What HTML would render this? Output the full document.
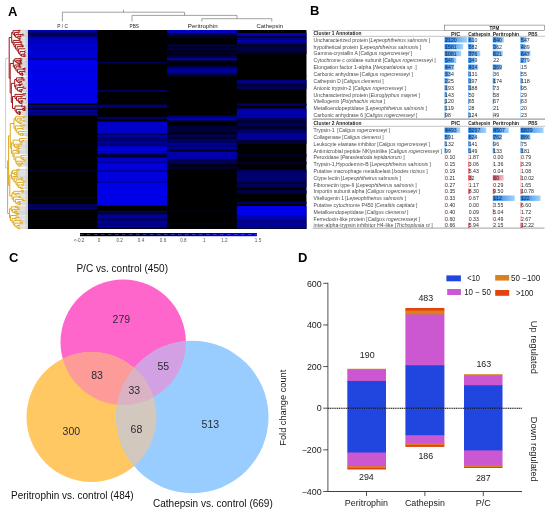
<!DOCTYPE html>
<html><head><meta charset="utf-8"><title>Figure</title>
<style>
html,body{margin:0;padding:0;background:#fff;}
body{width:550px;height:513px;overflow:hidden;}
svg{display:block;font-family:"Liberation Sans",Arial,sans-serif;filter:blur(0.35px);}
</style></head><body>
<svg width="550" height="513" viewBox="0 0 550 513">
<rect width="550" height="513" fill="#fff"/>
<text x="8" y="15.6" font-size="13" font-weight="bold" fill="#000">A</text>
<text x="310" y="15.2" font-size="13" font-weight="bold" fill="#000">B</text>
<text x="9" y="261.8" font-size="13" font-weight="bold" fill="#000">C</text>
<text x="298" y="262.3" font-size="13" font-weight="bold" fill="#000">D</text>
<g stroke="#7a7a7a" stroke-width="0.7" fill="none"><path d="M123.5 9.7V12.2 M62.4 21.4V12.2H184.5V15.4 M132 21.6V15.4H237V18.7 M201.8 21.6V18.7H271.8V21.6"/></g>
<text x="57.3" y="28.0" font-size="6.1" fill="#222" text-anchor="start" textLength="10.6" lengthAdjust="spacingAndGlyphs">P / C</text>
<text x="129.6" y="28.0" font-size="6.1" fill="#222" text-anchor="start" textLength="9.4" lengthAdjust="spacingAndGlyphs">PBS</text>
<text x="187.8" y="28.0" font-size="6.1" fill="#222" text-anchor="start" textLength="29.8" lengthAdjust="spacingAndGlyphs">Peritrophin</text>
<text x="256.5" y="28.0" font-size="6.1" fill="#222" text-anchor="start" textLength="26.5" lengthAdjust="spacingAndGlyphs">Cathepsin</text>
<rect x="27.8" y="30" width="278.7" height="199" fill="#000"/>
<rect x="27.8" y="30.0" width="69.5" height="2.0" fill="rgb(0,0,178)"/>
<rect x="27.8" y="32.0" width="69.5" height="1.3" fill="rgb(0,0,120)"/>
<rect x="27.8" y="33.3" width="69.5" height="2.0" fill="rgb(0,0,75)"/>
<rect x="27.8" y="35.3" width="69.5" height="1.0" fill="rgb(0,0,115)"/>
<rect x="27.8" y="36.3" width="69.5" height="3.7" fill="rgb(0,0,172)"/>
<rect x="27.8" y="40.0" width="69.5" height="2.0" fill="rgb(0,0,196)"/>
<rect x="27.8" y="42.0" width="69.5" height="2.0" fill="rgb(0,0,186)"/>
<rect x="27.8" y="44.0" width="69.5" height="3.0" fill="rgb(0,0,206)"/>
<rect x="27.8" y="47.0" width="69.5" height="3.0" fill="rgb(0,0,196)"/>
<rect x="27.8" y="50.0" width="69.5" height="4.0" fill="rgb(0,0,214)"/>
<rect x="27.8" y="54.0" width="69.5" height="2.0" fill="rgb(0,0,205)"/>
<rect x="27.8" y="56.0" width="69.5" height="2.6" fill="rgb(0,0,216)"/>
<rect x="27.8" y="58.6" width="69.5" height="1.0" fill="rgb(0,0,165)"/>
<rect x="27.8" y="59.6" width="69.5" height="2.4" fill="rgb(0,0,226)"/>
<rect x="27.8" y="62.0" width="69.5" height="8.0" fill="rgb(0,0,235)"/>
<rect x="27.8" y="70.0" width="69.5" height="2.0" fill="rgb(0,0,220)"/>
<rect x="27.8" y="72.0" width="69.5" height="8.0" fill="rgb(0,0,234)"/>
<rect x="27.8" y="80.0" width="69.5" height="2.0" fill="rgb(0,0,220)"/>
<rect x="27.8" y="82.0" width="69.5" height="21.0" fill="rgb(0,0,232)"/>
<rect x="27.8" y="103.0" width="69.5" height="0.5" fill="rgb(0,0,60)"/>
<rect x="27.8" y="105.0" width="69.5" height="3.0" fill="rgb(0,0,140)"/>
<rect x="27.8" y="108.0" width="69.5" height="2.0" fill="rgb(0,0,50)"/>
<rect x="27.8" y="110.0" width="69.5" height="2.2" fill="rgb(0,0,150)"/>
<rect x="27.8" y="112.2" width="69.5" height="0.8" fill="rgb(0,0,128)"/>
<rect x="27.8" y="113.0" width="69.5" height="2.0" fill="rgb(0,0,150)"/>
<rect x="27.8" y="115.0" width="69.5" height="1.0" fill="rgb(0,0,50)"/>
<rect x="27.8" y="143.6" width="69.5" height="0.8" fill="rgb(0,0,30)"/>
<rect x="27.8" y="170.3" width="69.5" height="0.8" fill="rgb(0,0,60)"/>
<rect x="27.8" y="197.0" width="69.5" height="0.8" fill="rgb(0,0,50)"/>
<rect x="27.8" y="204.0" width="69.5" height="3.8" fill="rgb(0,0,85)"/>
<rect x="27.8" y="207.8" width="69.5" height="1.0" fill="rgb(0,0,140)"/>
<rect x="97.3" y="62.0" width="69.7" height="1.0" fill="rgb(0,0,90)"/>
<rect x="97.3" y="90.0" width="69.7" height="1.5" fill="rgb(0,0,100)"/>
<rect x="97.3" y="104.5" width="69.7" height="3.3" fill="rgb(0,0,110)"/>
<rect x="97.3" y="116.8" width="69.7" height="2.4" fill="rgb(0,0,100)"/>
<rect x="97.3" y="121.5" width="69.7" height="11.5" fill="rgb(0,0,200)"/>
<rect x="97.3" y="133.0" width="69.7" height="1.6" fill="rgb(0,0,110)"/>
<rect x="97.3" y="134.6" width="69.7" height="2.4" fill="rgb(0,0,160)"/>
<rect x="97.3" y="137.0" width="69.7" height="4.5" fill="rgb(0,0,110)"/>
<rect x="97.3" y="141.5" width="69.7" height="1.5" fill="rgb(0,0,150)"/>
<rect x="97.3" y="143.0" width="69.7" height="2.8" fill="rgb(0,0,120)"/>
<rect x="97.3" y="145.8" width="69.7" height="2.2" fill="rgb(0,0,190)"/>
<rect x="97.3" y="148.0" width="69.7" height="3.5" fill="rgb(0,0,215)"/>
<rect x="97.3" y="151.5" width="69.7" height="1.5" fill="rgb(0,0,190)"/>
<rect x="97.3" y="153.0" width="69.7" height="1.7" fill="rgb(0,0,140)"/>
<rect x="97.3" y="154.7" width="69.7" height="2.8" fill="rgb(0,0,40)"/>
<rect x="97.3" y="157.5" width="69.7" height="4.3" fill="rgb(0,0,200)"/>
<rect x="97.3" y="161.8" width="69.7" height="1.2" fill="rgb(0,0,150)"/>
<rect x="97.3" y="163.0" width="69.7" height="7.7" fill="rgb(0,0,222)"/>
<rect x="97.3" y="170.7" width="69.7" height="1.3" fill="rgb(0,0,130)"/>
<rect x="97.3" y="172.0" width="69.7" height="8.0" fill="rgb(0,0,222)"/>
<rect x="97.3" y="180.0" width="69.7" height="2.5" fill="rgb(0,0,210)"/>
<rect x="97.3" y="182.5" width="69.7" height="23.0" fill="rgb(0,0,232)"/>
<rect x="97.3" y="211.0" width="69.7" height="1.5" fill="rgb(0,0,130)"/>
<rect x="97.3" y="212.5" width="69.7" height="1.9" fill="rgb(0,0,60)"/>
<rect x="97.3" y="214.4" width="69.7" height="3.6" fill="rgb(0,0,160)"/>
<rect x="97.3" y="218.0" width="69.7" height="2.7" fill="rgb(0,0,110)"/>
<rect x="97.3" y="220.7" width="69.7" height="3.3" fill="rgb(0,0,150)"/>
<rect x="97.3" y="224.0" width="69.7" height="1.5" fill="rgb(0,0,130)"/>
<rect x="97.3" y="225.5" width="69.7" height="1.5" fill="rgb(0,0,150)"/>
<rect x="97.3" y="227.0" width="69.7" height="1.5" fill="rgb(0,0,60)"/>
<rect x="97.3" y="228.5" width="69.7" height="0.5" fill="rgb(0,0,20)"/>
<rect x="167.0" y="30.0" width="69.8" height="3.0" fill="rgb(0,0,190)"/>
<rect x="167.0" y="34.3" width="69.8" height="1.3" fill="rgb(0,0,100)"/>
<rect x="167.0" y="35.6" width="69.8" height="2.0" fill="rgb(0,0,40)"/>
<rect x="167.0" y="44.5" width="69.8" height="2.0" fill="rgb(0,0,90)"/>
<rect x="167.0" y="48.3" width="69.8" height="2.1" fill="rgb(0,0,80)"/>
<rect x="167.0" y="50.4" width="69.8" height="5.0" fill="rgb(0,0,30)"/>
<rect x="167.0" y="55.4" width="69.8" height="2.1" fill="rgb(0,0,70)"/>
<rect x="167.0" y="57.5" width="69.8" height="1.1" fill="rgb(0,0,150)"/>
<rect x="167.0" y="58.6" width="69.8" height="1.4" fill="rgb(0,0,200)"/>
<rect x="167.0" y="60.0" width="69.8" height="0.8" fill="rgb(0,0,100)"/>
<rect x="167.0" y="60.8" width="69.8" height="4.8" fill="rgb(0,0,10)"/>
<rect x="167.0" y="65.6" width="69.8" height="2.4" fill="rgb(0,0,60)"/>
<rect x="167.0" y="68.0" width="69.8" height="1.8" fill="rgb(0,0,130)"/>
<rect x="167.0" y="69.8" width="69.8" height="2.0" fill="rgb(0,0,170)"/>
<rect x="167.0" y="71.8" width="69.8" height="2.0" fill="rgb(0,0,130)"/>
<rect x="167.0" y="73.8" width="69.8" height="2.5" fill="rgb(0,0,70)"/>
<rect x="167.0" y="115.6" width="69.8" height="1.9" fill="rgb(0,0,110)"/>
<rect x="167.0" y="117.5" width="69.8" height="3.0" fill="rgb(0,0,170)"/>
<rect x="167.0" y="120.5" width="69.8" height="1.0" fill="rgb(0,0,110)"/>
<rect x="167.0" y="125.8" width="69.8" height="6.7" fill="rgb(0,0,60)"/>
<rect x="167.0" y="134.3" width="69.8" height="2.6" fill="rgb(0,0,90)"/>
<rect x="167.0" y="136.9" width="69.8" height="2.1" fill="rgb(0,0,50)"/>
<rect x="167.0" y="139.0" width="69.8" height="3.7" fill="rgb(0,0,100)"/>
<rect x="167.0" y="142.7" width="69.8" height="2.6" fill="rgb(0,0,150)"/>
<rect x="167.0" y="145.3" width="69.8" height="1.0" fill="rgb(0,0,90)"/>
<rect x="167.0" y="146.3" width="69.8" height="2.7" fill="rgb(0,0,150)"/>
<rect x="167.0" y="149.0" width="69.8" height="2.6" fill="rgb(0,0,40)"/>
<rect x="167.0" y="151.6" width="69.8" height="7.7" fill="rgb(0,0,170)"/>
<rect x="167.0" y="159.3" width="69.8" height="5.1" fill="rgb(0,0,80)"/>
<rect x="167.0" y="164.4" width="69.8" height="2.6" fill="rgb(0,0,30)"/>
<rect x="167.0" y="167.0" width="69.8" height="1.7" fill="rgb(0,0,60)"/>
<rect x="167.0" y="210.6" width="69.8" height="0.8" fill="rgb(0,0,50)"/>
<rect x="167.0" y="223.4" width="69.8" height="0.8" fill="rgb(0,0,40)"/>
<rect x="236.8" y="33.0" width="69.7" height="3.4" fill="rgb(0,0,180)"/>
<rect x="236.8" y="36.4" width="69.7" height="1.6" fill="rgb(0,0,60)"/>
<rect x="236.8" y="38.0" width="69.7" height="1.5" fill="rgb(0,0,130)"/>
<rect x="236.8" y="39.5" width="69.7" height="2.0" fill="rgb(0,0,170)"/>
<rect x="236.8" y="41.5" width="69.7" height="2.5" fill="rgb(0,0,140)"/>
<rect x="236.8" y="44.0" width="69.7" height="2.5" fill="rgb(0,0,50)"/>
<rect x="236.8" y="46.5" width="69.7" height="5.1" fill="rgb(0,0,70)"/>
<rect x="236.8" y="51.6" width="69.7" height="2.4" fill="rgb(0,0,40)"/>
<rect x="236.8" y="75.4" width="69.7" height="0.8" fill="rgb(0,0,20)"/>
<rect x="236.8" y="80.0" width="69.7" height="3.8" fill="rgb(0,0,130)"/>
<rect x="236.8" y="83.8" width="69.7" height="1.8" fill="rgb(0,0,40)"/>
<rect x="236.8" y="85.6" width="69.7" height="3.4" fill="rgb(0,0,90)"/>
<rect x="236.8" y="103.4" width="69.7" height="2.6" fill="rgb(0,0,100)"/>
<rect x="236.8" y="108.5" width="69.7" height="9.7" fill="rgb(0,0,170)"/>
<rect x="236.8" y="118.2" width="69.7" height="2.5" fill="rgb(0,0,100)"/>
<rect x="236.8" y="120.7" width="69.7" height="2.6" fill="rgb(0,0,50)"/>
<rect x="236.8" y="123.3" width="69.7" height="3.0" fill="rgb(0,0,100)"/>
<rect x="236.8" y="126.3" width="69.7" height="3.7" fill="rgb(0,0,50)"/>
<rect x="236.8" y="130.0" width="69.7" height="2.5" fill="rgb(0,0,100)"/>
<rect x="236.8" y="132.5" width="69.7" height="7.7" fill="rgb(0,0,150)"/>
<rect x="236.8" y="140.2" width="69.7" height="3.8" fill="rgb(0,0,60)"/>
<rect x="236.8" y="154.2" width="69.7" height="2.5" fill="rgb(0,0,40)"/>
<rect x="236.8" y="161.8" width="69.7" height="2.6" fill="rgb(0,0,40)"/>
<rect x="236.8" y="169.5" width="69.7" height="2.5" fill="rgb(0,0,80)"/>
<rect x="236.8" y="172.0" width="69.7" height="10.0" fill="rgb(0,0,110)"/>
<rect x="236.8" y="182.0" width="69.7" height="1.3" fill="rgb(0,0,50)"/>
<rect x="236.8" y="183.3" width="69.7" height="4.3" fill="rgb(0,0,90)"/>
<rect x="236.8" y="190.0" width="69.7" height="4.0" fill="rgb(0,0,70)"/>
<rect x="236.8" y="201.6" width="69.7" height="2.4" fill="rgb(0,0,90)"/>
<rect x="236.8" y="206.0" width="69.7" height="9.6" fill="rgb(0,0,232)"/>
<rect x="236.8" y="215.6" width="69.7" height="5.1" fill="rgb(0,0,180)"/>
<rect x="236.8" y="220.7" width="69.7" height="2.3" fill="rgb(0,0,140)"/>
<rect x="236.8" y="223.0" width="69.7" height="2.0" fill="rgb(0,0,160)"/>
<rect x="236.8" y="225.0" width="69.7" height="2.0" fill="rgb(0,0,130)"/>
<rect x="236.8" y="227.0" width="69.7" height="1.3" fill="rgb(0,0,150)"/>
<rect x="236.8" y="228.3" width="69.7" height="0.7" fill="rgb(0,0,80)"/>
<rect x="25.6" y="30" width="2.1" height="199" fill="#e6e6e6"/>
<path d="M20.5 30.3H27.6 M19.8 31.1H27.6 M20.1 32.1H27.6 M19.0 33.1H27.6 M23.4 34.2H27.6 M24.3 35.1H27.6 M21.2 35.9H27.6 M21.5 36.7H27.6 M20.4 37.8H27.6 M21.0 38.9H27.6 M20.1 39.8H27.6 M20.8 40.9H27.6 M22.2 41.9H27.6 M22.1 42.9H27.6 M22.5 44.1H27.6 M23.5 45.3H27.6 M23.9 46.2H27.6 M23.2 47.0H27.6 M25.4 48.8H27.6 M25.6 50.9H27.6 M25.6 52.4H27.6 M25.0 53.7H27.6 M25.6 54.8H27.6 M25.6 55.8H27.6 M25.5 56.6H27.6 M21.2 58.3H27.6 M22.3 59.0H27.6 M21.4 59.9H27.6 M22.0 60.7H27.6 M21.3 61.5H27.6 M21.5 62.3H27.6 M22.1 63.0H27.6 M22.3 63.8H27.6 M20.3 64.5H27.6 M20.5 65.4H27.6 M20.9 66.3H27.6 M21.5 67.2H27.6 M25.6 68.1H27.6 M25.6 68.8H27.6 M25.5 69.7H27.6 M25.4 70.9H27.6 M25.4 72.0H27.6 M22.7 72.8H27.6 M23.0 73.6H27.6 M23.6 74.4H27.6 M23.0 75.4H27.6 M23.4 77.4H27.6 M23.6 78.3H27.6 M24.8 79.3H27.6 M24.7 80.4H27.6 M22.1 81.5H27.6 M21.5 82.3H27.6 M20.1 83.1H27.6 M22.8 84.0H27.6 M22.5 84.7H27.6 M21.0 85.6H27.6 M24.4 86.7H27.6 M25.6 87.8H27.6 M25.6 88.5H27.6 M22.9 89.4H27.6 M22.4 90.4H27.6 M22.0 91.2H27.6 M22.0 92.0H27.6 M25.6 93.4H27.6 M25.6 94.1H27.6 M25.2 95.1H27.6 M22.8 96.2H27.6 M22.3 97.0H27.6 M25.6 98.1H27.6 M25.6 99.4H27.6 M22.7 100.6H27.6 M23.4 101.7H27.6 M22.3 102.7H27.6 M22.3 103.6H27.6 M22.9 105.2H27.6 M25.2 106.3H27.6 M25.6 107.2H27.6 M25.6 108.1H27.6 M25.6 108.9H27.6 M25.2 109.7H27.6 M25.6 110.4H27.6 M20.4 111.3H27.6 M20.9 112.5H27.6 M20.7 113.6H27.6 M20.3 114.5H27.6 M25.6 115.9H27.6 M25.6 116.6H27.6 M24.8 117.4H27.6 M21.7 118.3H27.6 M22.1 119.2H27.6 M25.6 120.3H27.6 M24.7 121.5H27.6 M21.9 122.7H27.6 M21.9 123.9H27.6 M24.9 124.9H27.6 M25.0 125.6H27.6 M22.5 126.6H27.6 M24.6 127.9H27.6 M24.2 129.2H27.6 M25.6 131.4H27.6 M23.5 133.2H27.6 M24.0 134.0H27.6 M23.6 134.8H27.6 M23.3 135.6H27.6 M25.6 138.5H27.6 M24.5 140.5H27.6 M23.5 141.5H27.6 M22.4 142.5H27.6 M21.5 143.6H27.6 M22.1 144.7H27.6 M19.3 145.6H27.6 M19.7 146.4H27.6 M18.7 147.4H27.6 M20.1 148.5H27.6 M18.6 149.7H27.6 M19.5 150.7H27.6 M20.2 151.6H27.6 M19.9 152.6H27.6 M19.0 153.6H27.6 M25.6 155.6H27.6 M24.2 157.7H27.6 M24.7 158.9H27.6 M24.5 159.7H27.6 M25.6 160.6H27.6 M25.6 161.8H27.6 M23.2 162.8H27.6 M23.2 163.6H27.6 M21.9 164.4H27.6 M21.4 165.2H27.6 M20.7 166.3H27.6 M19.5 169.3H27.6 M20.0 170.0H27.6 M18.8 170.9H27.6 M17.5 172.0H27.6 M18.2 173.1H27.6 M18.2 174.1H27.6 M17.8 175.2H27.6 M17.9 176.2H27.6 M17.7 176.9H27.6 M22.7 177.7H27.6 M22.6 178.4H27.6 M22.7 179.3H27.6 M23.7 180.2H27.6 M25.6 181.1H27.6 M25.6 182.0H27.6 M24.5 183.2H27.6 M24.0 184.3H27.6 M23.7 185.5H27.6 M21.3 186.9H27.6 M22.6 187.9H27.6 M23.1 188.6H27.6 M23.7 190.6H27.6 M24.4 191.6H27.6 M23.5 192.4H27.6 M19.9 193.2H27.6 M18.8 194.0H27.6 M17.2 195.0H27.6 M21.2 196.3H27.6 M20.8 197.5H27.6 M22.8 198.7H27.6 M24.1 199.8H27.6 M25.2 200.6H27.6 M20.8 201.6H27.6 M20.0 202.6H27.6 M21.2 203.6H27.6 M20.8 204.6H27.6 M17.6 206.1H27.6 M19.3 207.1H27.6 M18.5 207.9H27.6 M19.7 208.8H27.6 M19.8 209.8H27.6 M16.9 210.8H27.6 M17.3 211.6H27.6 M16.7 212.5H27.6 M19.0 213.4H27.6 M19.0 214.1H27.6 M18.2 214.9H27.6 M17.2 216.1H27.6 M19.0 217.2H27.6 M20.1 218.0H27.6 M16.9 219.2H27.6 M22.0 220.3H27.6 M20.8 221.2H27.6 M22.9 222.0H27.6 M22.8 222.8H27.6 M22.8 223.8H27.6 M20.1 225.0H27.6 M20.0 226.1H27.6 M19.4 227.4H27.6 M20.5 228.5H27.6" stroke="#b0b0b0" stroke-width="0.45" fill="none"/>
<path d="M20.5 30.3H18.7V31.1H19.8 M20.1 32.1H17.8V33.1H19.0 M23.4 34.2H21.8V35.1H24.3 M21.2 35.9H20.0V36.7H21.5 M20.4 37.8H19.2V38.9H21.0 M20.0 36.3H17.7V38.3H19.2 M21.8 34.6H15.7V37.3H17.7 M17.8 32.6H14.5V36.0H15.7 M18.7 30.7H13.0V34.3H14.5 M20.1 39.8H18.8V40.9H20.8 M22.2 41.9H20.0V42.9H22.1 M22.5 44.1H21.0V45.3H23.5 M23.9 46.2H22.1V47.0H23.2 M25.6 50.9H24.6V52.4H25.6 M25.0 53.7H24.0V54.8H25.6 M25.6 55.8H23.3V56.6H25.5 M24.0 54.2H21.5V56.2H23.3 M24.6 51.6H20.0V55.2H21.5 M25.4 48.8H18.6V53.4H20.0 M22.1 46.6H17.1V51.1H18.6 M21.0 44.7H15.4V48.9H17.1 M20.0 42.4H14.1V46.8H15.4 M18.8 40.4H13.1V44.6H14.1 M13.0 32.5H11.7V42.5H13.1 M21.2 58.3H20.1V59.0H22.3 M21.4 59.9H20.3V60.7H22.0 M21.3 61.5H19.9V62.3H21.5 M22.1 63.0H19.8V63.8H22.3 M19.9 61.9H17.6V63.4H19.8 M20.3 60.3H16.1V62.7H17.6 M20.1 58.7H14.8V61.5H16.1 M20.3 64.5H18.6V65.4H20.5 M20.9 66.3H19.1V67.2H21.5 M25.6 68.1H24.2V68.8H25.6 M24.2 68.5H23.1V69.7H25.5 M25.4 70.9H24.3V72.0H25.4 M22.7 72.8H21.7V73.6H23.0 M23.6 74.4H22.0V75.4H23.0 M21.7 73.2H20.5V74.9H22.0 M24.3 71.4H19.3V74.1H20.5 M23.1 69.1H17.6V72.7H19.3 M19.1 66.8H16.0V70.9H17.6 M18.6 65.0H14.7V68.8H16.0 M14.8 60.1H13.3V66.9H14.7 M23.4 77.4H21.1V78.3H23.6 M24.8 79.3H23.3V80.4H24.7 M22.1 81.5H20.3V82.3H21.5 M20.3 81.9H19.1V83.1H20.1 M23.3 79.9H17.9V82.5H19.1 M21.1 77.9H16.4V81.2H17.9 M22.8 84.0H21.2V84.7H22.5 M21.2 84.4H18.9V85.6H21.0 M25.6 87.8H25.3V88.5H25.6 M24.4 86.7H23.1V88.2H25.3 M22.9 89.4H21.4V90.4H22.4 M22.0 91.2H20.6V92.0H22.0 M21.4 89.9H19.3V91.6H20.6 M23.1 87.4H17.4V90.8H19.3 M18.9 85.0H15.8V89.1H17.4 M16.4 79.5H14.7V87.0H15.8 M25.6 93.4H25.3V94.1H25.6 M25.3 93.8H22.8V95.1H25.2 M22.8 96.2H20.6V97.0H22.3 M25.6 98.1H25.3V99.4H25.6 M22.7 100.6H21.2V101.7H23.4 M22.3 102.7H20.7V103.6H22.3 M21.2 101.1H19.5V103.2H20.7 M25.3 98.7H18.3V102.2H19.5 M20.6 96.6H16.5V100.4H18.3 M22.8 94.4H15.0V98.5H16.5 M25.2 106.3H24.0V107.2H25.6 M22.9 105.2H21.6V106.8H24.0 M25.6 108.1H23.8V108.9H25.6 M25.2 109.7H23.6V110.4H25.6 M23.8 108.5H22.6V110.1H23.6 M20.4 111.3H19.1V112.5H20.9 M20.7 113.6H19.1V114.5H20.3 M19.1 111.9H17.7V114.0H19.1 M22.6 109.3H16.3V113.0H17.7 M21.6 106.0H15.0V111.1H16.3 M15 96.5H12.5V108.5H15 M14.7 83.3H11.3V102.5H12.5 M13.3 63.5H10.2V92.9H11.3 M11.7 37.5H9.2V78.2H10.2" stroke="#a01616" stroke-width="1" fill="none"/>
<path d="M25.6 115.9H24.8V116.6H25.6 M24.8 116.2H23.0V117.4H24.8 M21.7 118.3H20.0V119.2H22.1 M25.6 120.3H23.5V121.5H24.7 M21.9 122.7H20.5V123.9H21.9 M23.5 120.9H18.9V123.3H20.5 M20.0 118.8H17.0V122.1H18.9 M23.0 116.8H15.5V120.4H17.0 M24.9 124.9H23.2V125.6H25.0 M23.2 125.2H20.8V126.6H22.5 M24.6 127.9H22.2V129.2H24.2 M23.5 133.2H22.4V134.0H24.0 M23.6 134.8H22.2V135.6H23.3 M22.4 133.6H19.9V135.2H22.2 M25.6 131.4H18.6V134.4H19.9 M22.2 128.6H16.9V132.9H18.6 M20.8 125.9H15.3V130.7H16.9 M15.5 118.6H14.0V128.3H15.3 M24.5 140.5H22.3V141.5H23.5 M22.3 141.0H20.7V142.5H22.4 M25.6 138.5H19.5V141.8H20.7 M21.5 143.6H20.1V144.7H22.1 M19.3 145.6H17.8V146.4H19.7 M18.7 147.4H17.6V148.5H20.1 M17.8 146.0H15.9V147.9H17.6 M20.1 144.2H14.5V147.0H15.9 M19.5 140.1H13.2V145.6H14.5 M19.5 150.7H17.9V151.6H20.2 M18.6 149.7H16.5V151.2H17.9 M19.9 152.6H17.8V153.6H19.0 M24.7 158.9H23.0V159.7H24.5 M24.2 157.7H21.9V159.3H23.0 M25.6 155.6H20.9V158.5H21.9 M25.6 160.6H24.4V161.8H25.6 M23.2 162.8H21.7V163.6H23.2 M21.9 164.4H20.3V165.2H21.4 M20.3 164.8H18.9V166.3H20.7 M21.7 163.2H17.9V165.6H18.9 M24.4 161.2H16.8V164.4H17.9 M20.9 157.0H15.8V162.8H16.8 M17.8 153.1H14.1V159.9H15.8 M16.5 150.4H12.9V156.5H14.1 M13.2 142.8H11.4V153.5H12.9 M19.5 169.3H17.7V170.0H20.0 M17.7 169.7H16.6V170.9H18.8 M17.5 172.0H15.9V173.1H18.2 M18.2 174.1H16.2V175.2H17.8 M15.9 172.5H14.2V174.7H16.2 M16.6 170.3H12.6V173.6H14.2 M17.9 176.2H16.5V176.9H17.7 M22.7 177.7H21.2V178.4H22.6 M22.7 179.3H21.3V180.2H23.7 M25.6 181.1H24.5V182.0H25.6 M24.5 181.6H23.0V183.2H24.5 M24.0 184.3H22.6V185.5H23.7 M22.6 187.9H21.2V188.6H23.1 M21.3 186.9H20.2V188.2H21.2 M22.6 184.9H18.6V187.5H20.2 M23.0 182.4H17.3V186.2H18.6 M21.3 179.8H16.0V184.3H17.3 M21.2 178.1H14.0V182.0H16.0 M16.5 176.5H12.8V180.0H14.0 M12.6 171.9H11.4V178.3H12.8 M24.4 191.6H22.4V192.4H23.5 M23.7 190.6H21.2V192.0H22.4 M19.9 193.2H17.6V194.0H18.8 M17.6 193.6H15.3V195.0H17.2 M21.2 191.3H13.8V194.3H15.3 M21.2 196.3H18.9V197.5H20.8 M24.1 199.8H22.9V200.6H25.2 M22.8 198.7H21.7V200.2H22.9 M20.8 201.6H19.0V202.6H20.0 M21.2 203.6H19.0V204.6H20.8 M19.0 202.1H17.1V204.1H19.0 M21.7 199.4H15.3V203.1H17.1 M18.9 196.9H13.4V201.3H15.3 M13.8 192.8H12.0V199.1H13.4 M19.3 207.1H16.8V207.9H18.5 M17.6 206.1H15.5V207.5H16.8 M19.7 208.8H17.8V209.8H19.8 M16.9 210.8H15.4V211.6H17.3 M19.0 213.4H17.0V214.1H19.0 M16.7 212.5H15.6V213.7H17.0 M15.4 211.2H14.2V213.1H15.6 M17.8 209.3H12.4V212.2H14.2 M15.5 206.8H11.2V210.7H12.4 M18.2 214.9H15.9V216.1H17.2 M19.0 217.2H17.6V218.0H20.1 M17.6 217.6H15.2V219.2H16.9 M22.0 220.3H19.6V221.2H20.8 M22.9 222.0H21.8V222.8H22.8 M21.8 222.4H20.5V223.8H22.8 M20.1 225.0H18.6V226.1H20.0 M19.4 227.4H18.3V228.5H20.5 M18.6 225.5H16.9V227.9H18.3 M20.5 223.1H14.9V226.7H16.9 M19.6 220.7H13.7V224.9H14.9 M15.2 218.4H12.1V222.8H13.7 M15.9 215.5H10.5V220.6H12.1 M11.2 208.8H9.5V218.1H10.5 M14 123.5H10.3V148.2H11.4 M11.4 175.1H9.8V196.0H12 M10.3 135.8H8.6V185.5H9.8 M8.6 160.7H7.6V213.4H9.5" stroke="#dcab22" stroke-width="1" fill="none"/>
<path d="M9.2 58.3H5.6V168H7.6" stroke="#aaa" stroke-width="0.6" fill="none"/>
<defs><linearGradient id="cs" x1="0" x2="1" y1="0" y2="0"><stop offset="0" stop-color="#000"/><stop offset="0.12" stop-color="#000"/><stop offset="1" stop-color="#0000ff"/></linearGradient></defs>
<rect x="80" y="233" width="177" height="3.2" fill="url(#cs)"/>
<path d="M80 234.5H257" stroke="#8a8ab0" stroke-width="0.6" stroke-dasharray="3.5 3.5" opacity="0.7"/>
<text x="79" y="241.6" font-size="4.6" fill="#555" text-anchor="middle">&lt;-0.2</text>
<text x="99" y="241.6" font-size="4.6" fill="#555" text-anchor="middle">0</text>
<text x="119.6" y="241.6" font-size="4.6" fill="#555" text-anchor="middle">0.2</text>
<text x="141" y="241.6" font-size="4.6" fill="#555" text-anchor="middle">0.4</text>
<text x="163" y="241.6" font-size="4.6" fill="#555" text-anchor="middle">0.6</text>
<text x="183.4" y="241.6" font-size="4.6" fill="#555" text-anchor="middle">0.8</text>
<text x="204.4" y="241.6" font-size="4.6" fill="#555" text-anchor="middle">1</text>
<text x="224.4" y="241.6" font-size="4.6" fill="#555" text-anchor="middle">1.2</text>
<text x="258" y="241.6" font-size="4.6" fill="#555" text-anchor="middle">1.5</text>
<defs><linearGradient id="bb" x1="0" x2="1"><stop offset="0" stop-color="#1a7ee8"/><stop offset="1" stop-color="#a4d2fa"/></linearGradient><linearGradient id="rb" x1="0" x2="1"><stop offset="0" stop-color="#ea4450"/><stop offset="1" stop-color="#fac4c8"/></linearGradient></defs>
<rect x="444.4" y="25.1" width="100.2" height="5.4" fill="#fff" stroke="#555" stroke-width="0.5"/>
<text x="494.4" y="29.7" font-size="5.15" font-weight="bold" fill="#222" text-anchor="middle" textLength="9.6" lengthAdjust="spacingAndGlyphs">TPM</text>
<path d="M312.6 30.5H444.4" stroke="#9a9a9a" stroke-width="0.6"/>
<path d="M312.6 36.3H545" stroke="#9a9a9a" stroke-width="0.6"/>
<text x="313.6" y="35.2" font-size="5.15" font-weight="bold" fill="#222" textLength="47.8" lengthAdjust="spacingAndGlyphs">Cluster 1 Annotation</text>
<text x="451" y="35.85" font-size="5.15" font-weight="bold" fill="#222" textLength="9.4" lengthAdjust="spacingAndGlyphs">P/C</text>
<text x="468.2" y="35.85" font-size="5.15" font-weight="bold" fill="#222" textLength="22.2" lengthAdjust="spacingAndGlyphs">Cathepsin</text>
<text x="492.8" y="35.85" font-size="5.15" font-weight="bold" fill="#222" textLength="26.2" lengthAdjust="spacingAndGlyphs">Peritrophin</text>
<text x="528.2" y="35.85" font-size="5.15" font-weight="bold" fill="#222" textLength="9.2" lengthAdjust="spacingAndGlyphs">PBS</text>
<text x="313.6" y="41.80" font-size="5.15" fill="#4a4a4a" textLength="116.5" lengthAdjust="spacingAndGlyphs" xml:space="preserve">Uncharacterized protein [<tspan font-style="italic">Lepeophtheirus salmonis</tspan> ]</text>
<rect x="444.6" y="37.10" width="22.6" height="5.4" fill="url(#bb)"/>
<text x="445.1" y="41.85" font-size="5.15" fill="#15294d" textLength="11.6" lengthAdjust="spacingAndGlyphs">2120</text>
<rect x="468.2" y="37.10" width="6.0" height="5.4" fill="url(#bb)"/>
<text x="468.7" y="41.85" font-size="5.15" fill="#15294d" textLength="8.7" lengthAdjust="spacingAndGlyphs">610</text>
<rect x="492.8" y="37.10" width="11.0" height="5.4" fill="url(#bb)"/>
<text x="493.3" y="41.85" font-size="5.15" fill="#15294d" textLength="8.7" lengthAdjust="spacingAndGlyphs">840</text>
<rect x="520.5" y="37.10" width="6.0" height="5.4" fill="url(#bb)"/>
<text x="521.0" y="41.85" font-size="5.15" fill="#15294d" textLength="8.7" lengthAdjust="spacingAndGlyphs">547</text>
<text x="313.6" y="48.64" font-size="5.15" fill="#4a4a4a" textLength="107.6" lengthAdjust="spacingAndGlyphs" xml:space="preserve">hypothetical protein [<tspan font-style="italic">Lepeophtheirus salmonis</tspan> ]</text>
<rect x="444.6" y="43.94" width="18.6" height="5.4" fill="url(#bb)"/>
<text x="445.1" y="48.69" font-size="5.15" fill="#15294d" textLength="11.6" lengthAdjust="spacingAndGlyphs">1581</text>
<rect x="468.2" y="43.94" width="6.0" height="5.4" fill="url(#bb)"/>
<text x="468.7" y="48.69" font-size="5.15" fill="#15294d" textLength="8.7" lengthAdjust="spacingAndGlyphs">582</text>
<rect x="492.8" y="43.94" width="5.0" height="5.4" fill="url(#bb)"/>
<text x="493.3" y="48.69" font-size="5.15" fill="#15294d" textLength="8.7" lengthAdjust="spacingAndGlyphs">362</text>
<rect x="520.5" y="43.94" width="5.0" height="5.4" fill="url(#bb)"/>
<text x="521.0" y="48.69" font-size="5.15" fill="#15294d" textLength="8.7" lengthAdjust="spacingAndGlyphs">489</text>
<text x="313.6" y="55.48" font-size="5.15" fill="#4a4a4a" textLength="98.7" lengthAdjust="spacingAndGlyphs" xml:space="preserve">Gamma-crystallin A [<tspan font-style="italic">Caligus rogercresseyi</tspan> ]</text>
<rect x="444.6" y="50.78" width="16.6" height="5.4" fill="url(#bb)"/>
<text x="445.1" y="55.53" font-size="5.15" fill="#15294d" textLength="11.6" lengthAdjust="spacingAndGlyphs">1081</text>
<rect x="468.2" y="50.78" width="12.0" height="5.4" fill="url(#bb)"/>
<text x="468.7" y="55.53" font-size="5.15" fill="#15294d" textLength="8.7" lengthAdjust="spacingAndGlyphs">776</text>
<rect x="492.8" y="50.78" width="10.0" height="5.4" fill="url(#bb)"/>
<text x="493.3" y="55.53" font-size="5.15" fill="#15294d" textLength="8.7" lengthAdjust="spacingAndGlyphs">621</text>
<rect x="520.5" y="50.78" width="10.0" height="5.4" fill="url(#bb)"/>
<text x="521.0" y="55.53" font-size="5.15" fill="#15294d" textLength="8.7" lengthAdjust="spacingAndGlyphs">647</text>
<text x="313.6" y="62.32" font-size="5.15" fill="#4a4a4a" textLength="122.1" lengthAdjust="spacingAndGlyphs" xml:space="preserve">Cytochrome c oxidase subunit [<tspan font-style="italic">Caligus rogercresseyi</tspan> ]</text>
<rect x="444.6" y="57.62" width="11.6" height="5.4" fill="url(#bb)"/>
<text x="445.1" y="62.37" font-size="5.15" fill="#15294d" textLength="8.7" lengthAdjust="spacingAndGlyphs">546</text>
<rect x="468.2" y="57.62" width="7.0" height="5.4" fill="url(#bb)"/>
<text x="468.7" y="62.37" font-size="5.15" fill="#15294d" textLength="8.7" lengthAdjust="spacingAndGlyphs">349</text>
<text x="493.3" y="62.37" font-size="5.15" fill="#2a2a2a" textLength="5.8" lengthAdjust="spacingAndGlyphs">22</text>
<rect x="520.5" y="57.62" width="6.0" height="5.4" fill="url(#bb)"/>
<text x="521.0" y="62.37" font-size="5.15" fill="#15294d" textLength="8.7" lengthAdjust="spacingAndGlyphs">279</text>
<text x="313.6" y="69.16" font-size="5.15" fill="#4a4a4a" textLength="103.1" lengthAdjust="spacingAndGlyphs" xml:space="preserve">Elongation factor 1-alpha [<tspan font-style="italic">Neoparlatoria sp</tspan> .]</text>
<rect x="444.6" y="64.46" width="9.6" height="5.4" fill="url(#bb)"/>
<text x="445.1" y="69.21" font-size="5.15" fill="#15294d" textLength="8.7" lengthAdjust="spacingAndGlyphs">447</text>
<rect x="468.2" y="64.46" width="10.0" height="5.4" fill="url(#bb)"/>
<text x="468.7" y="69.21" font-size="5.15" fill="#15294d" textLength="8.7" lengthAdjust="spacingAndGlyphs">434</text>
<rect x="492.8" y="64.46" width="9.0" height="5.4" fill="url(#bb)"/>
<text x="493.3" y="69.21" font-size="5.15" fill="#15294d" textLength="8.7" lengthAdjust="spacingAndGlyphs">369</text>
<rect x="520.5" y="64.46" width="0.4" height="5.4" fill="#6aa6e4"/>
<text x="521.0" y="69.21" font-size="5.15" fill="#2a2a2a" textLength="5.8" lengthAdjust="spacingAndGlyphs">15</text>
<text x="313.6" y="76.00" font-size="5.15" fill="#4a4a4a" textLength="99.2" lengthAdjust="spacingAndGlyphs" xml:space="preserve">Carbonic anhydrase [<tspan font-style="italic">Caligus rogercresseyi</tspan> ]</text>
<rect x="444.6" y="71.30" width="5.6" height="5.4" fill="url(#bb)"/>
<text x="445.1" y="76.05" font-size="5.15" fill="#15294d" textLength="8.7" lengthAdjust="spacingAndGlyphs">334</text>
<rect x="468.2" y="71.30" width="2.6" height="5.4" fill="url(#bb)"/>
<text x="468.7" y="76.05" font-size="5.15" fill="#2a2a2a" textLength="8.7" lengthAdjust="spacingAndGlyphs">131</text>
<rect x="492.8" y="71.30" width="0.8" height="5.4" fill="#6aa6e4"/>
<text x="493.3" y="76.05" font-size="5.15" fill="#2a2a2a" textLength="5.8" lengthAdjust="spacingAndGlyphs">36</text>
<rect x="520.5" y="71.30" width="1.2" height="5.4" fill="url(#bb)"/>
<text x="521.0" y="76.05" font-size="5.15" fill="#2a2a2a" textLength="5.8" lengthAdjust="spacingAndGlyphs">55</text>
<text x="313.6" y="82.84" font-size="5.15" fill="#4a4a4a" textLength="70.0" lengthAdjust="spacingAndGlyphs" xml:space="preserve">Cathepsin D [<tspan font-style="italic">Caligus clemensi</tspan> ]</text>
<rect x="444.6" y="78.14" width="4.0" height="5.4" fill="url(#bb)"/>
<text x="445.1" y="82.89" font-size="5.15" fill="#2a2a2a" textLength="8.7" lengthAdjust="spacingAndGlyphs">225</text>
<rect x="468.2" y="78.14" width="3.4" height="5.4" fill="url(#bb)"/>
<text x="468.7" y="82.89" font-size="5.15" fill="#2a2a2a" textLength="8.7" lengthAdjust="spacingAndGlyphs">197</text>
<rect x="492.8" y="78.14" width="3.0" height="5.4" fill="url(#bb)"/>
<text x="493.3" y="82.89" font-size="5.15" fill="#2a2a2a" textLength="8.7" lengthAdjust="spacingAndGlyphs">174</text>
<rect x="520.5" y="78.14" width="2.2" height="5.4" fill="url(#bb)"/>
<text x="521.0" y="82.89" font-size="5.15" fill="#2a2a2a" textLength="8.7" lengthAdjust="spacingAndGlyphs">118</text>
<text x="313.6" y="89.68" font-size="5.15" fill="#4a4a4a" textLength="92.4" lengthAdjust="spacingAndGlyphs" xml:space="preserve">Anionic trypsin-2 [<tspan font-style="italic">Caligus rogercresseyi</tspan> ]</text>
<rect x="444.6" y="84.98" width="3.2" height="5.4" fill="url(#bb)"/>
<text x="445.1" y="89.73" font-size="5.15" fill="#2a2a2a" textLength="8.7" lengthAdjust="spacingAndGlyphs">193</text>
<rect x="468.2" y="84.98" width="3.2" height="5.4" fill="url(#bb)"/>
<text x="468.7" y="89.73" font-size="5.15" fill="#2a2a2a" textLength="8.7" lengthAdjust="spacingAndGlyphs">188</text>
<rect x="492.8" y="84.98" width="1.4" height="5.4" fill="url(#bb)"/>
<text x="493.3" y="89.73" font-size="5.15" fill="#2a2a2a" textLength="5.8" lengthAdjust="spacingAndGlyphs">73</text>
<rect x="520.5" y="84.98" width="1.6" height="5.4" fill="url(#bb)"/>
<text x="521.0" y="89.73" font-size="5.15" fill="#2a2a2a" textLength="5.8" lengthAdjust="spacingAndGlyphs">95</text>
<text x="313.6" y="96.52" font-size="5.15" fill="#4a4a4a" textLength="106.4" lengthAdjust="spacingAndGlyphs" xml:space="preserve">Uncharacterized protein [<tspan font-style="italic">Euroglyphus maynei</tspan> ]</text>
<rect x="444.6" y="91.82" width="2.4" height="5.4" fill="url(#bb)"/>
<text x="445.1" y="96.57" font-size="5.15" fill="#2a2a2a" textLength="8.7" lengthAdjust="spacingAndGlyphs">143</text>
<rect x="468.2" y="91.82" width="0.8" height="5.4" fill="#6aa6e4"/>
<text x="468.7" y="96.57" font-size="5.15" fill="#2a2a2a" textLength="5.8" lengthAdjust="spacingAndGlyphs">50</text>
<rect x="492.8" y="91.82" width="1.0" height="5.4" fill="#6aa6e4"/>
<text x="493.3" y="96.57" font-size="5.15" fill="#2a2a2a" textLength="5.8" lengthAdjust="spacingAndGlyphs">58</text>
<rect x="520.5" y="91.82" width="0.6" height="5.4" fill="#6aa6e4"/>
<text x="521.0" y="96.57" font-size="5.15" fill="#2a2a2a" textLength="5.8" lengthAdjust="spacingAndGlyphs">29</text>
<text x="313.6" y="103.36" font-size="5.15" fill="#4a4a4a" textLength="71.4" lengthAdjust="spacingAndGlyphs" xml:space="preserve">Vitellogenin [<tspan font-style="italic">Polyrhachis vicina</tspan> ]</text>
<rect x="444.6" y="98.66" width="2.0" height="5.4" fill="url(#bb)"/>
<text x="445.1" y="103.41" font-size="5.15" fill="#2a2a2a" textLength="8.7" lengthAdjust="spacingAndGlyphs">120</text>
<rect x="468.2" y="98.66" width="1.2" height="5.4" fill="url(#bb)"/>
<text x="468.7" y="103.41" font-size="5.15" fill="#2a2a2a" textLength="5.8" lengthAdjust="spacingAndGlyphs">65</text>
<rect x="492.8" y="98.66" width="1.2" height="5.4" fill="url(#bb)"/>
<text x="493.3" y="103.41" font-size="5.15" fill="#2a2a2a" textLength="5.8" lengthAdjust="spacingAndGlyphs">67</text>
<rect x="520.5" y="98.66" width="1.2" height="5.4" fill="url(#bb)"/>
<text x="521.0" y="103.41" font-size="5.15" fill="#2a2a2a" textLength="5.8" lengthAdjust="spacingAndGlyphs">63</text>
<text x="313.6" y="110.20" font-size="5.15" fill="#4a4a4a" textLength="113.4" lengthAdjust="spacingAndGlyphs" xml:space="preserve">Metalloendopeptidase [<tspan font-style="italic">Lepeophtheirus salmonis</tspan> ]</text>
<rect x="444.6" y="105.50" width="2.0" height="5.4" fill="url(#bb)"/>
<text x="445.1" y="110.25" font-size="5.15" fill="#2a2a2a" textLength="8.7" lengthAdjust="spacingAndGlyphs">119</text>
<rect x="468.2" y="105.50" width="0.6" height="5.4" fill="#6aa6e4"/>
<text x="468.7" y="110.25" font-size="5.15" fill="#2a2a2a" textLength="5.8" lengthAdjust="spacingAndGlyphs">28</text>
<rect x="492.8" y="105.50" width="0.4" height="5.4" fill="#6aa6e4"/>
<text x="493.3" y="110.25" font-size="5.15" fill="#2a2a2a" textLength="5.8" lengthAdjust="spacingAndGlyphs">21</text>
<rect x="520.5" y="105.50" width="0.4" height="5.4" fill="#6aa6e4"/>
<text x="521.0" y="110.25" font-size="5.15" fill="#2a2a2a" textLength="5.8" lengthAdjust="spacingAndGlyphs">20</text>
<text x="313.6" y="117.04" font-size="5.15" fill="#4a4a4a" textLength="103.8" lengthAdjust="spacingAndGlyphs" xml:space="preserve">Carbonic anhydrase 6 [<tspan font-style="italic">Caligus rogercresseyi</tspan> ]</text>
<rect x="444.6" y="112.34" width="1.6" height="5.4" fill="url(#bb)"/>
<text x="445.1" y="117.09" font-size="5.15" fill="#2a2a2a" textLength="5.8" lengthAdjust="spacingAndGlyphs">98</text>
<rect x="468.2" y="112.34" width="2.2" height="5.4" fill="url(#bb)"/>
<text x="468.7" y="117.09" font-size="5.15" fill="#2a2a2a" textLength="8.7" lengthAdjust="spacingAndGlyphs">124</text>
<rect x="492.8" y="112.34" width="0.8" height="5.4" fill="#6aa6e4"/>
<text x="493.3" y="117.09" font-size="5.15" fill="#2a2a2a" textLength="5.8" lengthAdjust="spacingAndGlyphs">49</text>
<rect x="520.5" y="112.34" width="0.4" height="5.4" fill="#6aa6e4"/>
<text x="521.0" y="117.09" font-size="5.15" fill="#2a2a2a" textLength="5.8" lengthAdjust="spacingAndGlyphs">23</text>
<path d="M312.6 119.1H545" stroke="#777" stroke-width="0.9"/>
<text x="313.6" y="125" font-size="5.15" font-weight="bold" fill="#222" textLength="47.8" lengthAdjust="spacingAndGlyphs">Cluster 2 Annotation</text>
<text x="451" y="125.05" font-size="5.15" font-weight="bold" fill="#222" textLength="9.4" lengthAdjust="spacingAndGlyphs">P/C</text>
<text x="468.2" y="125.05" font-size="5.15" font-weight="bold" fill="#222" textLength="22.2" lengthAdjust="spacingAndGlyphs">Cathepsin</text>
<text x="492.8" y="125.05" font-size="5.15" font-weight="bold" fill="#222" textLength="26.2" lengthAdjust="spacingAndGlyphs">Peritrophin</text>
<text x="528.2" y="125.05" font-size="5.15" font-weight="bold" fill="#222" textLength="9.2" lengthAdjust="spacingAndGlyphs">PBS</text>
<path d="M312.6 126.3H545" stroke="#9a9a9a" stroke-width="0.6"/>
<text x="313.6" y="132.20" font-size="5.15" fill="#4a4a4a" textLength="76.4" lengthAdjust="spacingAndGlyphs" xml:space="preserve">Trypsin-1  [<tspan font-style="italic">Caligus rogercresseyi</tspan> ]</text>
<rect x="444.6" y="127.50" width="15.6" height="5.4" fill="url(#bb)"/>
<text x="445.1" y="132.25" font-size="5.15" fill="#15294d" textLength="11.6" lengthAdjust="spacingAndGlyphs">4493</text>
<rect x="468.2" y="127.50" width="18.0" height="5.4" fill="url(#bb)"/>
<text x="468.7" y="132.25" font-size="5.15" fill="#15294d" textLength="11.6" lengthAdjust="spacingAndGlyphs">5297</text>
<rect x="492.8" y="127.50" width="16.0" height="5.4" fill="url(#bb)"/>
<text x="493.3" y="132.25" font-size="5.15" fill="#15294d" textLength="11.6" lengthAdjust="spacingAndGlyphs">4507</text>
<rect x="520.5" y="127.50" width="23.0" height="5.4" fill="url(#bb)"/>
<text x="521.0" y="132.25" font-size="5.15" fill="#15294d" textLength="11.6" lengthAdjust="spacingAndGlyphs">6839</text>
<text x="313.6" y="139.00" font-size="5.15" fill="#4a4a4a" textLength="70.0" lengthAdjust="spacingAndGlyphs" xml:space="preserve">Collagenase [<tspan font-style="italic">Caligus clemensi</tspan> ]</text>
<rect x="444.6" y="134.30" width="5.6" height="5.4" fill="url(#bb)"/>
<text x="445.1" y="139.05" font-size="5.15" fill="#15294d" textLength="8.7" lengthAdjust="spacingAndGlyphs">591</text>
<rect x="468.2" y="134.30" width="8.0" height="5.4" fill="url(#bb)"/>
<text x="468.7" y="139.05" font-size="5.15" fill="#15294d" textLength="8.7" lengthAdjust="spacingAndGlyphs">824</text>
<rect x="492.8" y="134.30" width="9.0" height="5.4" fill="url(#bb)"/>
<text x="493.3" y="139.05" font-size="5.15" fill="#15294d" textLength="8.7" lengthAdjust="spacingAndGlyphs">762</text>
<rect x="520.5" y="134.30" width="10.0" height="5.4" fill="url(#bb)"/>
<text x="521.0" y="139.05" font-size="5.15" fill="#15294d" textLength="8.7" lengthAdjust="spacingAndGlyphs">886</text>
<text x="313.6" y="145.80" font-size="5.15" fill="#4a4a4a" textLength="116.4" lengthAdjust="spacingAndGlyphs" xml:space="preserve">Leukocyte elastase inhibitor [<tspan font-style="italic">Caligus rogercresseyi</tspan> ]</text>
<rect x="444.6" y="141.10" width="2.0" height="5.4" fill="url(#bb)"/>
<text x="445.1" y="145.85" font-size="5.15" fill="#2a2a2a" textLength="8.7" lengthAdjust="spacingAndGlyphs">132</text>
<rect x="468.2" y="141.10" width="2.4" height="5.4" fill="url(#bb)"/>
<text x="468.7" y="145.85" font-size="5.15" fill="#2a2a2a" textLength="8.7" lengthAdjust="spacingAndGlyphs">141</text>
<rect x="492.8" y="141.10" width="1.4" height="5.4" fill="url(#bb)"/>
<text x="493.3" y="145.85" font-size="5.15" fill="#2a2a2a" textLength="5.8" lengthAdjust="spacingAndGlyphs">96</text>
<rect x="520.5" y="141.10" width="1.0" height="5.4" fill="#6aa6e4"/>
<text x="521.0" y="145.85" font-size="5.15" fill="#2a2a2a" textLength="5.8" lengthAdjust="spacingAndGlyphs">75</text>
<text x="313.6" y="152.60" font-size="5.15" fill="#4a4a4a" textLength="128.4" lengthAdjust="spacingAndGlyphs" xml:space="preserve">Antimicrobial peptide NKlysinlike [<tspan font-style="italic">Caligus rogercresseyi</tspan> ]</text>
<rect x="444.6" y="147.90" width="1.6" height="5.4" fill="url(#bb)"/>
<text x="445.1" y="152.65" font-size="5.15" fill="#2a2a2a" textLength="5.8" lengthAdjust="spacingAndGlyphs">99</text>
<rect x="468.2" y="147.90" width="3.0" height="5.4" fill="url(#bb)"/>
<text x="468.7" y="152.65" font-size="5.15" fill="#2a2a2a" textLength="8.7" lengthAdjust="spacingAndGlyphs">149</text>
<rect x="492.8" y="147.90" width="2.4" height="5.4" fill="url(#bb)"/>
<text x="493.3" y="152.65" font-size="5.15" fill="#2a2a2a" textLength="8.7" lengthAdjust="spacingAndGlyphs">133</text>
<rect x="520.5" y="147.90" width="3.0" height="5.4" fill="url(#bb)"/>
<text x="521.0" y="152.65" font-size="5.15" fill="#2a2a2a" textLength="8.7" lengthAdjust="spacingAndGlyphs">181</text>
<text x="313.6" y="159.40" font-size="5.15" fill="#4a4a4a" textLength="91.1" lengthAdjust="spacingAndGlyphs" xml:space="preserve">Peroxidase [<tspan font-style="italic">Parasteatoda tepidariorum</tspan> ]</text>
<rect x="444.6" y="154.70" width="0.3" height="5.4" fill="#f4a6ab"/>
<text x="445.1" y="159.45" font-size="5.15" fill="#2a2a2a" textLength="10.1" lengthAdjust="spacingAndGlyphs">0.10</text>
<rect x="468.2" y="154.70" width="0.6" height="5.4" fill="#f4a6ab"/>
<text x="468.7" y="159.45" font-size="5.15" fill="#2a2a2a" textLength="10.1" lengthAdjust="spacingAndGlyphs">1.87</text>
<text x="493.3" y="159.45" font-size="5.15" fill="#2a2a2a" textLength="10.1" lengthAdjust="spacingAndGlyphs">0.00</text>
<rect x="520.5" y="154.70" width="0.4" height="5.4" fill="#f4a6ab"/>
<text x="521.0" y="159.45" font-size="5.15" fill="#2a2a2a" textLength="10.1" lengthAdjust="spacingAndGlyphs">0.79</text>
<text x="313.6" y="166.20" font-size="5.15" fill="#4a4a4a" textLength="117.4" lengthAdjust="spacingAndGlyphs" xml:space="preserve">Trypsin-1,Hypodermin-B [<tspan font-style="italic">Lepeophtheirus salmonis</tspan> ]</text>
<rect x="444.6" y="161.50" width="0.3" height="5.4" fill="#f4a6ab"/>
<text x="445.1" y="166.25" font-size="5.15" fill="#2a2a2a" textLength="10.1" lengthAdjust="spacingAndGlyphs">0.15</text>
<rect x="468.2" y="161.50" width="1.6" height="5.4" fill="url(#rb)"/>
<text x="468.7" y="166.25" font-size="5.15" fill="#2a2a2a" textLength="10.1" lengthAdjust="spacingAndGlyphs">3.06</text>
<rect x="492.8" y="161.50" width="0.6" height="5.4" fill="#f4a6ab"/>
<text x="493.3" y="166.25" font-size="5.15" fill="#2a2a2a" textLength="10.1" lengthAdjust="spacingAndGlyphs">1.36</text>
<rect x="520.5" y="161.50" width="1.4" height="5.4" fill="url(#rb)"/>
<text x="521.0" y="166.25" font-size="5.15" fill="#2a2a2a" textLength="10.1" lengthAdjust="spacingAndGlyphs">3.29</text>
<text x="313.6" y="173.00" font-size="5.15" fill="#4a4a4a" textLength="114.0" lengthAdjust="spacingAndGlyphs" xml:space="preserve">Putative macrophage metalloelast [<tspan font-style="italic">Ixodes ricinus</tspan> ]</text>
<rect x="444.6" y="168.30" width="0.3" height="5.4" fill="#f4a6ab"/>
<text x="445.1" y="173.05" font-size="5.15" fill="#2a2a2a" textLength="10.1" lengthAdjust="spacingAndGlyphs">0.19</text>
<rect x="468.2" y="168.30" width="2.0" height="5.4" fill="url(#rb)"/>
<text x="468.7" y="173.05" font-size="5.15" fill="#2a2a2a" textLength="10.1" lengthAdjust="spacingAndGlyphs">5.43</text>
<text x="493.3" y="173.05" font-size="5.15" fill="#2a2a2a" textLength="10.1" lengthAdjust="spacingAndGlyphs">0.04</text>
<rect x="520.5" y="168.30" width="0.5" height="5.4" fill="#f4a6ab"/>
<text x="521.0" y="173.05" font-size="5.15" fill="#2a2a2a" textLength="10.1" lengthAdjust="spacingAndGlyphs">1.08</text>
<text x="313.6" y="179.80" font-size="5.15" fill="#4a4a4a" textLength="87.3" lengthAdjust="spacingAndGlyphs" xml:space="preserve">Ctype lectin [<tspan font-style="italic">Lepeophtheirus salmonis</tspan> ]</text>
<rect x="444.6" y="175.10" width="0.3" height="5.4" fill="#f4a6ab"/>
<text x="445.1" y="179.85" font-size="5.15" fill="#2a2a2a" textLength="10.1" lengthAdjust="spacingAndGlyphs">0.21</text>
<rect x="468.2" y="175.10" width="4.0" height="5.4" fill="url(#rb)"/>
<text x="468.7" y="179.85" font-size="5.15" fill="#2a2a2a" textLength="5.8" lengthAdjust="spacingAndGlyphs">32</text>
<rect x="492.8" y="175.10" width="11.0" height="5.4" fill="url(#rb)"/>
<text x="493.3" y="179.85" font-size="5.15" fill="#15294d" textLength="5.8" lengthAdjust="spacingAndGlyphs">60</text>
<rect x="520.5" y="175.10" width="1.4" height="5.4" fill="url(#rb)"/>
<text x="521.0" y="179.85" font-size="5.15" fill="#2a2a2a" textLength="13.0" lengthAdjust="spacingAndGlyphs">10.02</text>
<text x="313.6" y="186.60" font-size="5.15" fill="#4a4a4a" textLength="103.1" lengthAdjust="spacingAndGlyphs" xml:space="preserve">Fibronectin type-II [<tspan font-style="italic">Lepeophtheirus salmonis</tspan> ]</text>
<rect x="444.6" y="181.90" width="0.3" height="5.4" fill="#f4a6ab"/>
<text x="445.1" y="186.65" font-size="5.15" fill="#2a2a2a" textLength="10.1" lengthAdjust="spacingAndGlyphs">0.27</text>
<rect x="468.2" y="181.90" width="0.5" height="5.4" fill="#f4a6ab"/>
<text x="468.7" y="186.65" font-size="5.15" fill="#2a2a2a" textLength="10.1" lengthAdjust="spacingAndGlyphs">1.17</text>
<rect x="492.8" y="181.90" width="0.3" height="5.4" fill="#f4a6ab"/>
<text x="493.3" y="186.65" font-size="5.15" fill="#2a2a2a" textLength="10.1" lengthAdjust="spacingAndGlyphs">0.29</text>
<rect x="520.5" y="181.90" width="0.6" height="5.4" fill="#f4a6ab"/>
<text x="521.0" y="186.65" font-size="5.15" fill="#2a2a2a" textLength="10.1" lengthAdjust="spacingAndGlyphs">1.65</text>
<text x="313.6" y="193.40" font-size="5.15" fill="#4a4a4a" textLength="106.4" lengthAdjust="spacingAndGlyphs" xml:space="preserve">Importin subunit alpha [<tspan font-style="italic">Caligus rogercresseyi</tspan> ]</text>
<rect x="444.6" y="188.70" width="0.3" height="5.4" fill="#f4a6ab"/>
<text x="445.1" y="193.45" font-size="5.15" fill="#2a2a2a" textLength="10.1" lengthAdjust="spacingAndGlyphs">0.35</text>
<rect x="468.2" y="188.70" width="2.4" height="5.4" fill="url(#rb)"/>
<text x="468.7" y="193.45" font-size="5.15" fill="#2a2a2a" textLength="10.1" lengthAdjust="spacingAndGlyphs">8.30</text>
<rect x="492.8" y="188.70" width="2.4" height="5.4" fill="url(#rb)"/>
<text x="493.3" y="193.45" font-size="5.15" fill="#2a2a2a" textLength="10.1" lengthAdjust="spacingAndGlyphs">9.50</text>
<rect x="520.5" y="188.70" width="2.4" height="5.4" fill="url(#rb)"/>
<text x="521.0" y="193.45" font-size="5.15" fill="#2a2a2a" textLength="13.0" lengthAdjust="spacingAndGlyphs">10.78</text>
<text x="313.6" y="200.20" font-size="5.15" fill="#4a4a4a" textLength="92.4" lengthAdjust="spacingAndGlyphs" xml:space="preserve">Vitellogenin 1 [<tspan font-style="italic">Lepeophtheirus salmonis</tspan> ]</text>
<rect x="444.6" y="195.50" width="0.3" height="5.4" fill="#f4a6ab"/>
<text x="445.1" y="200.25" font-size="5.15" fill="#2a2a2a" textLength="10.1" lengthAdjust="spacingAndGlyphs">0.33</text>
<rect x="468.2" y="195.50" width="0.3" height="5.4" fill="#f4a6ab"/>
<text x="468.7" y="200.25" font-size="5.15" fill="#2a2a2a" textLength="10.1" lengthAdjust="spacingAndGlyphs">0.67</text>
<rect x="492.8" y="195.50" width="22.0" height="5.4" fill="url(#bb)"/>
<text x="493.3" y="200.25" font-size="5.15" fill="#15294d" textLength="8.7" lengthAdjust="spacingAndGlyphs">112</text>
<rect x="520.5" y="195.50" width="20.0" height="5.4" fill="url(#bb)"/>
<text x="521.0" y="200.25" font-size="5.15" fill="#15294d" textLength="8.7" lengthAdjust="spacingAndGlyphs">122</text>
<text x="313.6" y="207.00" font-size="5.15" fill="#4a4a4a" textLength="103.8" lengthAdjust="spacingAndGlyphs" xml:space="preserve">Putative cytochrome P450 [<tspan font-style="italic">Ceratitis capitata</tspan> ]</text>
<rect x="444.6" y="202.30" width="0.3" height="5.4" fill="#f4a6ab"/>
<text x="445.1" y="207.05" font-size="5.15" fill="#2a2a2a" textLength="10.1" lengthAdjust="spacingAndGlyphs">0.40</text>
<text x="468.7" y="207.05" font-size="5.15" fill="#2a2a2a" textLength="10.1" lengthAdjust="spacingAndGlyphs">0.00</text>
<rect x="492.8" y="202.30" width="1.0" height="5.4" fill="#f4a6ab"/>
<text x="493.3" y="207.05" font-size="5.15" fill="#2a2a2a" textLength="10.1" lengthAdjust="spacingAndGlyphs">3.55</text>
<rect x="520.5" y="202.30" width="2.0" height="5.4" fill="url(#rb)"/>
<text x="521.0" y="207.05" font-size="5.15" fill="#2a2a2a" textLength="10.1" lengthAdjust="spacingAndGlyphs">6.60</text>
<text x="313.6" y="213.80" font-size="5.15" fill="#4a4a4a" textLength="94.9" lengthAdjust="spacingAndGlyphs" xml:space="preserve">Metalloendopeptidase [<tspan font-style="italic">Caligus clemensi</tspan> ]</text>
<rect x="444.6" y="209.10" width="0.3" height="5.4" fill="#f4a6ab"/>
<text x="445.1" y="213.85" font-size="5.15" fill="#2a2a2a" textLength="10.1" lengthAdjust="spacingAndGlyphs">0.40</text>
<text x="468.7" y="213.85" font-size="5.15" fill="#2a2a2a" textLength="10.1" lengthAdjust="spacingAndGlyphs">0.09</text>
<rect x="492.8" y="209.10" width="1.6" height="5.4" fill="url(#rb)"/>
<text x="493.3" y="213.85" font-size="5.15" fill="#2a2a2a" textLength="10.1" lengthAdjust="spacingAndGlyphs">5.04</text>
<rect x="520.5" y="209.10" width="0.5" height="5.4" fill="#f4a6ab"/>
<text x="521.0" y="213.85" font-size="5.15" fill="#2a2a2a" textLength="10.1" lengthAdjust="spacingAndGlyphs">1.72</text>
<text x="313.6" y="220.60" font-size="5.15" fill="#4a4a4a" textLength="106.4" lengthAdjust="spacingAndGlyphs" xml:space="preserve">Ferredoxin-like protein [<tspan font-style="italic">Caligus rogercresseyi</tspan> ]</text>
<rect x="444.6" y="215.90" width="0.3" height="5.4" fill="#f4a6ab"/>
<text x="445.1" y="220.65" font-size="5.15" fill="#2a2a2a" textLength="10.1" lengthAdjust="spacingAndGlyphs">0.60</text>
<rect x="468.2" y="215.90" width="0.2" height="5.4" fill="#f4a6ab"/>
<text x="468.7" y="220.65" font-size="5.15" fill="#2a2a2a" textLength="10.1" lengthAdjust="spacingAndGlyphs">0.33</text>
<rect x="492.8" y="215.90" width="0.2" height="5.4" fill="#f4a6ab"/>
<text x="493.3" y="220.65" font-size="5.15" fill="#2a2a2a" textLength="10.1" lengthAdjust="spacingAndGlyphs">0.49</text>
<rect x="520.5" y="215.90" width="1.0" height="5.4" fill="#f4a6ab"/>
<text x="521.0" y="220.65" font-size="5.15" fill="#2a2a2a" textLength="10.1" lengthAdjust="spacingAndGlyphs">2.67</text>
<text x="313.6" y="227.40" font-size="5.15" fill="#4a4a4a" textLength="119.1" lengthAdjust="spacingAndGlyphs" xml:space="preserve">inter-alpha-trypsin inhibitor H4-like [<tspan font-style="italic">Trichoplusia ni</tspan> ]</text>
<rect x="444.6" y="222.70" width="0.3" height="5.4" fill="#f4a6ab"/>
<text x="445.1" y="227.45" font-size="5.15" fill="#2a2a2a" textLength="10.1" lengthAdjust="spacingAndGlyphs">0.66</text>
<rect x="468.2" y="222.70" width="2.0" height="5.4" fill="url(#rb)"/>
<text x="468.7" y="227.45" font-size="5.15" fill="#2a2a2a" textLength="10.1" lengthAdjust="spacingAndGlyphs">5.94</text>
<rect x="492.8" y="222.70" width="0.5" height="5.4" fill="#f4a6ab"/>
<text x="493.3" y="227.45" font-size="5.15" fill="#2a2a2a" textLength="10.1" lengthAdjust="spacingAndGlyphs">2.15</text>
<rect x="520.5" y="222.70" width="3.0" height="5.4" fill="url(#rb)"/>
<text x="521.0" y="227.45" font-size="5.15" fill="#2a2a2a" textLength="13.0" lengthAdjust="spacingAndGlyphs">12.22</text>
<path d="M312.6 228.1H544.5" stroke="#8a8a8a" stroke-width="0.8"/>
<defs><clipPath id="cp"><circle cx="123.2" cy="342.2" r="62.7"/></clipPath><clipPath id="cy"><circle cx="91.5" cy="417" r="65"/></clipPath><clipPath id="cb"><circle cx="192.35" cy="417" r="76.2"/></clipPath></defs>
<circle cx="123.2" cy="342.2" r="62.7" fill="#ff66cc"/>
<circle cx="91.5" cy="417" r="65" fill="#ffc862"/>
<circle cx="192.35" cy="417" r="76.2" fill="#99ccff"/>
<g clip-path="url(#cp)"><circle cx="91.5" cy="417" r="65" fill="#fd9b99"/></g>
<g clip-path="url(#cp)"><circle cx="192.35" cy="417" r="76.2" fill="#d3a1e3"/></g>
<g clip-path="url(#cy)"><circle cx="192.35" cy="417" r="76.2" fill="#d2c8bd"/></g>
<g clip-path="url(#cp)"><g clip-path="url(#cy)"><circle cx="192.35" cy="417" r="76.2" fill="#dbb1c4"/></g></g>
<text x="121.3" y="323.0" font-size="10.5" fill="#2b2b33" text-anchor="middle" textLength="17.6" lengthAdjust="spacing">279</text>
<text x="97" y="379.4" font-size="10.5" fill="#2b2b33" text-anchor="middle" textLength="11.7" lengthAdjust="spacing">83</text>
<text x="163.3" y="370.1" font-size="10.5" fill="#2b2b33" text-anchor="middle" textLength="11.7" lengthAdjust="spacing">55</text>
<text x="134.3" y="393.9" font-size="10.5" fill="#2b2b33" text-anchor="middle" textLength="11.7" lengthAdjust="spacing">33</text>
<text x="71.4" y="435.4" font-size="10.5" fill="#2b2b33" text-anchor="middle" textLength="17.6" lengthAdjust="spacing">300</text>
<text x="136.4" y="433.4" font-size="10.5" fill="#2b2b33" text-anchor="middle" textLength="11.7" lengthAdjust="spacing">68</text>
<text x="210.4" y="427.6" font-size="10.5" fill="#2b2b33" text-anchor="middle" textLength="17.6" lengthAdjust="spacing">513</text>
<text x="76.4" y="272.4" font-size="10" fill="#111" textLength="91.6" lengthAdjust="spacingAndGlyphs">P/C vs. control (450)</text>
<text x="11" y="499" font-size="10" fill="#111" textLength="122.6" lengthAdjust="spacingAndGlyphs">Peritrophin vs. control (484)</text>
<text x="153" y="507.2" font-size="10" fill="#111" textLength="119.8" lengthAdjust="spacingAndGlyphs">Cathepsin vs. control (669)</text>
<rect x="347.3" y="368.76" width="38.7" height="1.64" fill="#d9811e"/>
<rect x="347.3" y="369.80" width="38.7" height="11.80" fill="#cb57d1"/>
<rect x="347.3" y="380.99" width="38.7" height="27.21" fill="#2145df"/>
<rect x="347.3" y="467.13" width="38.7" height="2.37" fill="#e3430f"/>
<rect x="347.3" y="465.59" width="38.7" height="2.14" fill="#d9811e"/>
<rect x="347.3" y="451.89" width="38.7" height="14.30" fill="#cb57d1"/>
<rect x="347.3" y="408.20" width="38.7" height="44.29" fill="#2145df"/>
<rect x="405.4" y="307.95" width="39.0" height="3.22" fill="#e3430f"/>
<rect x="405.4" y="310.58" width="39.0" height="4.43" fill="#d9811e"/>
<rect x="405.4" y="314.41" width="39.0" height="51.41" fill="#cb57d1"/>
<rect x="405.4" y="365.22" width="39.0" height="42.98" fill="#2145df"/>
<rect x="405.4" y="444.19" width="39.0" height="2.72" fill="#e3430f"/>
<rect x="405.4" y="442.69" width="39.0" height="2.10" fill="#d9811e"/>
<rect x="405.4" y="434.60" width="39.0" height="8.70" fill="#cb57d1"/>
<rect x="405.4" y="408.20" width="39.0" height="27.00" fill="#2145df"/>
<rect x="464" y="374.21" width="38.5" height="1.70" fill="#d9811e"/>
<rect x="464" y="375.31" width="38.5" height="10.49" fill="#cb57d1"/>
<rect x="464" y="385.20" width="38.5" height="23.00" fill="#2145df"/>
<rect x="464" y="466.40" width="38.5" height="1.60" fill="#e3430f"/>
<rect x="464" y="465.09" width="38.5" height="1.91" fill="#d9811e"/>
<rect x="464" y="449.79" width="38.5" height="15.90" fill="#cb57d1"/>
<rect x="464" y="408.20" width="38.5" height="42.19" fill="#2145df"/>
<path d="M327.9 282.8V491.5" stroke="#555" stroke-width="1" fill="none"/>
<path d="M327.4 491.5H522" stroke="#404040" stroke-width="1" fill="none"/>
<path d="M323.2 283.31H328 M323.2 324.94H328 M323.2 366.57H328 M323.2 408.20H328 M323.2 449.83H328 M323.2 491.46H328 M366.5 491.5V496 M424.9 491.5V496 M483.3 491.5V496" stroke="#404040" stroke-width="0.9" fill="none"/>
<path d="M328 408.2H522" stroke="#000" stroke-width="1.1" stroke-dasharray="1.2 0.6" fill="none"/>
<text x="321.7" y="286.5" font-size="8.9" fill="#1a1a1a" text-anchor="end">600</text>
<text x="321.7" y="328.1" font-size="8.9" fill="#1a1a1a" text-anchor="end">400</text>
<text x="321.7" y="369.8" font-size="8.9" fill="#1a1a1a" text-anchor="end">200</text>
<text x="321.7" y="411.4" font-size="8.9" fill="#1a1a1a" text-anchor="end">0</text>
<text x="321.7" y="453.0" font-size="8.9" fill="#1a1a1a" text-anchor="end">−200</text>
<text x="321.7" y="494.7" font-size="8.9" fill="#1a1a1a" text-anchor="end">−400</text>
<text x="367.2" y="357.5" font-size="8.9" fill="#1a1a1a" text-anchor="middle">190</text>
<text x="425.8" y="301.0" font-size="8.9" fill="#1a1a1a" text-anchor="middle">483</text>
<text x="483.8" y="367.2" font-size="8.9" fill="#1a1a1a" text-anchor="middle">163</text>
<text x="366.4" y="480.4" font-size="8.9" fill="#1a1a1a" text-anchor="middle">294</text>
<text x="425.8" y="458.7" font-size="8.9" fill="#1a1a1a" text-anchor="middle">186</text>
<text x="483.3" y="481.1" font-size="8.9" fill="#1a1a1a" text-anchor="middle">287</text>
<text x="366.4" y="505.8" font-size="8.9" fill="#1a1a1a" text-anchor="middle" textLength="43.2" lengthAdjust="spacingAndGlyphs">Peritrophin</text>
<text x="424.9" y="505.8" font-size="8.9" fill="#1a1a1a" text-anchor="middle" textLength="40" lengthAdjust="spacingAndGlyphs">Cathepsin</text>
<text x="483.2" y="505.8" font-size="8.9" fill="#1a1a1a" text-anchor="middle" textLength="15.1" lengthAdjust="spacingAndGlyphs">P/C</text>
<text transform="translate(286.4 445.7) rotate(-90)" font-size="9.3" fill="#1a1a1a" textLength="76" lengthAdjust="spacingAndGlyphs">Fold change count</text>
<text transform="translate(530.6 320.7) rotate(90)" font-size="9.3" fill="#1a1a1a" textLength="53.3" lengthAdjust="spacingAndGlyphs">Up regulated</text>
<text transform="translate(530.6 416.8) rotate(90)" font-size="9.3" fill="#1a1a1a" textLength="64.9" lengthAdjust="spacingAndGlyphs">Down regulated</text>
<rect x="446.4" y="275.4" width="14.5" height="5.9" fill="#2145df"/>
<rect x="495.2" y="275" width="14" height="5.6" fill="#d9811e"/>
<rect x="447.2" y="289" width="13.7" height="6" fill="#cb57d1"/>
<rect x="495.2" y="290" width="14" height="5.8" fill="#e3430f"/>
<text x="467.3" y="281.0" font-size="8.5" fill="#1a1a1a" textLength="12.7" lengthAdjust="spacingAndGlyphs">&lt;10</text>
<text x="511" y="281.1" font-size="8.5" fill="#1a1a1a" textLength="29.3" lengthAdjust="spacingAndGlyphs">50 −100</text>
<text x="464.2" y="295.1" font-size="8.5" fill="#1a1a1a" textLength="26.8" lengthAdjust="spacingAndGlyphs">10 − 50</text>
<text x="516" y="295.8" font-size="8.5" fill="#1a1a1a" textLength="17.4" lengthAdjust="spacingAndGlyphs">&gt;100</text>
</svg>
</body></html>
